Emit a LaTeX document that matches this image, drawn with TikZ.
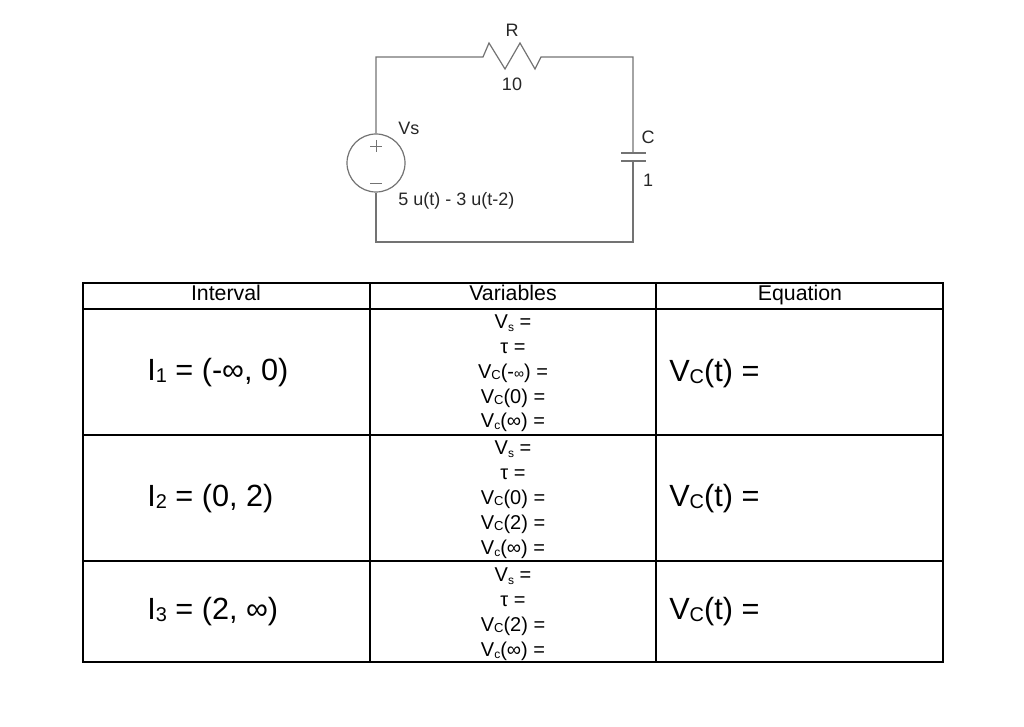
\documentclass[tikz,border=0pt]{standalone}
\usepackage{fontspec}
\setmainfont{Liberation Sans}
\newcommand{\lowsub}[1]{\raisebox{-0.25ex}{\scalebox{0.6}{#1}}}
\newcommand{\bigsub}[1]{\raisebox{-0.1ex}{\scalebox{0.65}{#1}}}
\begin{document}
\begin{tikzpicture}[x=0.75pt,y=-0.75pt,
  wire/.style={draw=black!55,line width=0.9pt},
  grid/.style={draw=black,line width=0.8pt},
  lab/.style={font=\fontsize{13.5}{15}\selectfont,text=black!85,inner sep=0pt},
  var/.style={font=\fontsize{15}{17}\selectfont,inner sep=0pt},
  big/.style={font=\fontsize{23}{26}\selectfont,inner sep=0pt,anchor=west},
  hdr/.style={font=\fontsize{16}{18}\selectfont,inner sep=0pt,text height=1.5ex,text depth=0.3ex}]
\useasboundingbox (0,0) rectangle (1024,727);
% circuit
\coordinate (tl) at (376,57); \coordinate (tr) at (633,57);
\coordinate (bl) at (376,242); \coordinate (br) at (633,242);
\node[circle,wire,minimum size=58pt*0.75,inner sep=0pt] (vs) at (376,163) {};
\draw[wire] (vs.north) -- (tl) -- (483,57) -- (489,43) -- (505,69) -- (520,43) -- (535,69) -- (541,57) -- (tr) -- (633,153);
\draw[wire] (621,153) -- (646,153);
\draw[wire] (621,161) -- (646,161);
\draw[wire] (633,161) -- (br) -- (bl) -- (vs.south);
\draw[black!55,line width=0.7pt] (370,146) -- (382,146) (376,140) -- (376,152);
\draw[black!55,line width=0.7pt] (370,183) -- (382,183);
\node[lab] (r) at (512,30) {R};
\node[lab] (rv) at (512,84) {10};
\node[lab,anchor=west] (vsl) at (398,128) {Vs};
\node[lab] (c) at (648,137) {C};
\node[lab] (cv) at (648,180) {1};
\node[lab,anchor=west] (ex) at (398,201) {5 u(t) - 3 u(t-2)};
% table
\draw[grid] (83,283) rectangle (943,662);
\foreach \y in {309,435,561} \draw[grid] (83,\y) -- (943,\y);
\foreach \x in {370,656} \draw[grid] (\x,283) -- (\x,662);
\node[hdr] (h1) at (226,296) {Interval};
\node[hdr] (h2) at (513,296) {Variables};
\node[hdr] (h3) at (800,296) {Equation};
\node[big] (i1) at (147,373) {I\bigsub{1} = (-∞, 0)};
\node[big] (i2) at (147,499) {I\bigsub{2} = (0, 2)};
\node[big] (i3) at (147,612) {I\bigsub{3} = (2, ∞)};
\node[big] (e1) at (669,374) {V\bigsub{C}(t) =};
\node[big] (e2) at (669,499) {V\bigsub{C}(t) =};
\node[big] (e3) at (669,612) {V\bigsub{C}(t) =};
\node[var] at (513,323) {V\lowsub{s} =};
\node[var] at (513,348) {τ =};
\node[var] at (513,373) {V\bigsub{C}(-\scalebox{0.7}{∞}) =};
\node[var] at (513,398) {V\bigsub{C}(0) =};
\node[var] at (513,422) {V\lowsub{c}(∞) =};
\node[var] at (513,449) {V\lowsub{s} =};
\node[var] at (513,474) {τ =};
\node[var] at (513,499) {V\bigsub{C}(0) =};
\node[var] at (513,524) {V\bigsub{C}(2) =};
\node[var] at (513,549) {V\lowsub{c}(∞) =};
\node[var] at (513,576) {V\lowsub{s} =};
\node[var] at (513,601) {τ =};
\node[var] at (513,626) {V\bigsub{C}(2) =};
\node[var] at (513,651) {V\lowsub{c}(∞) =};
\end{tikzpicture}
\end{document}
